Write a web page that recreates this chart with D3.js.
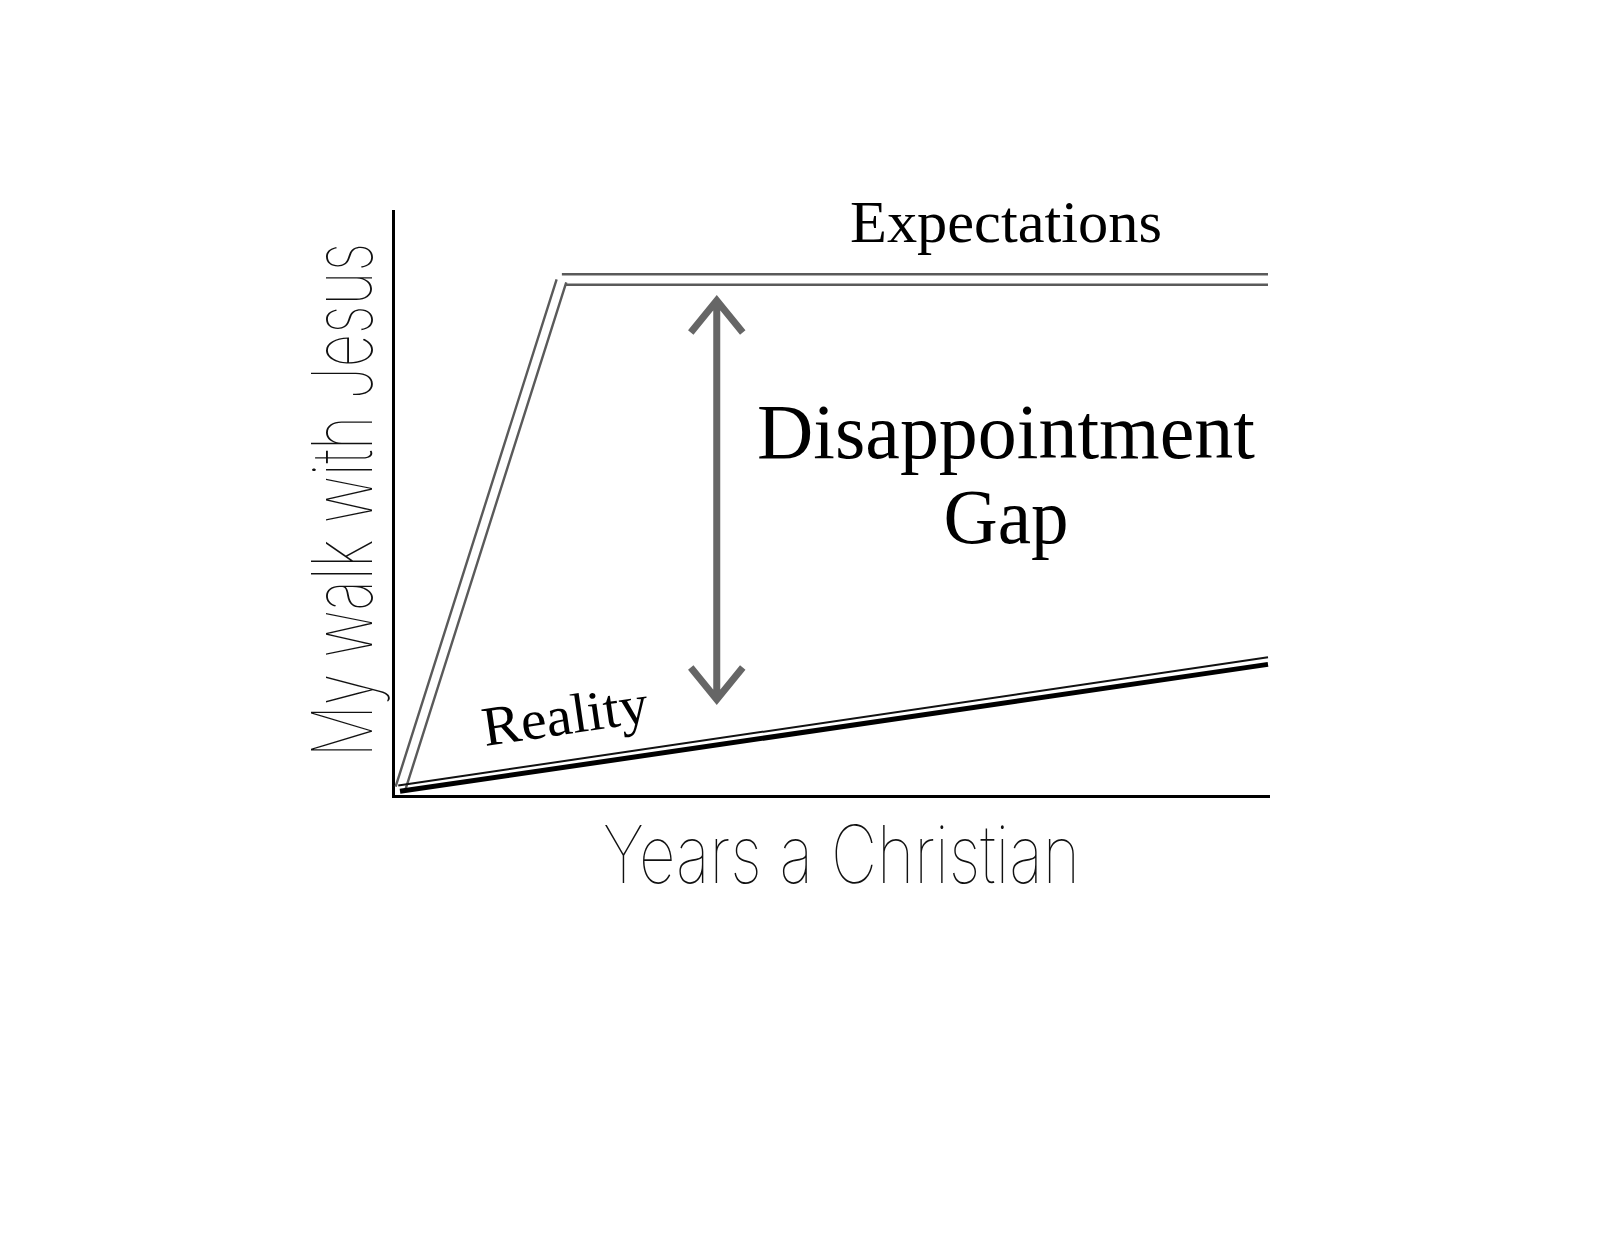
<!DOCTYPE html>
<html>
<head>
<meta charset="utf-8">
<script src="https://cdn.jsdelivr.net/npm/d3@7"></script>
<style>
  html, body { margin: 0; padding: 0; background: #fff; }
  svg { display: block; }
</style>
</head>
<body>
<svg id="chart" width="1600" height="1237"></svg>
<script>
// ---- data (years a Christian on x, walk with Jesus on y; arbitrary 0-10 units) ----
const xDomain = [0, 10];
const yDomain = [0, 10];

// Expectations: double line, diagonal rise then plateau (segments separated by null)
const expectationsOuter = [[0.03, 0.16], [1.87, 8.83], null, [1.93, 8.92], [10, 8.92]];
const expectationsInner = [[0.14, 0.10], [1.98, 8.78], null, [1.97, 8.74], [10, 8.74]];

// Reality: thin line over a thick line, slow steady rise
const realityThin  = [[0.06, 0.18], [10, 2.37]];
const realityThick = [[0.08, 0.08], [10, 2.25]];

// Disappointment-gap arrow
const arrowX = [3.70];
const arrowY = [1.65, 8.47];

// Labels
const labelExpectations = ["Expectations"];
const labelGap = ["Disappointment", "Gap"];
const labelReality = ["Reality"];
const labelX = ["Years a Christian"];
const labelY = ["My walk with Jesus"];

// ---- layout ----
const svg = d3.select("#chart");
const x = d3.scaleLinear().domain(xDomain).range([393, 1268]);
const y = d3.scaleLinear().domain(yDomain).range([796, 211]);

const line = d3.line()
  .defined(d => d !== null)
  .x(d => x(d[0]))
  .y(d => y(d[1]));

// axes (no ticks)
const gx = svg.append("g").attr("transform", `translate(0,${y(0)})`)
  .call(d3.axisBottom(x).ticks(0).tickSizeOuter(0));
const gy = svg.append("g").attr("transform", `translate(${x(0)},0)`)
  .call(d3.axisLeft(y).ticks(0).tickSizeOuter(0));
[gx, gy].forEach(g => g.select(".domain")
  .attr("stroke", "#000").attr("stroke-width", 3).attr("stroke-linecap", "square"));

// expectations lines
[expectationsOuter, expectationsInner].forEach(d => {
  svg.append("path").datum(d)
    .attr("d", line).attr("fill", "none")
    .attr("stroke", "#5a5a5a").attr("stroke-width", 2.4);
});

// reality lines
svg.append("path").datum(realityThin)
  .attr("d", line).attr("fill", "none")
  .attr("stroke", "#111").attr("stroke-width", 2);
svg.append("path").datum(realityThick)
  .attr("d", line).attr("fill", "none")
  .attr("stroke", "#000").attr("stroke-width", 5);

// double-headed arrow
const ax = x(arrowX[0]), ayTop = y(arrowY[1]), ayBot = y(arrowY[0]);
const hw = 26, hh = 32;
const arrowPath = d3.path();
arrowPath.moveTo(ax, ayTop); arrowPath.lineTo(ax, ayBot);
arrowPath.moveTo(ax - hw, ayTop + hh); arrowPath.lineTo(ax, ayTop); arrowPath.lineTo(ax + hw, ayTop + hh);
arrowPath.moveTo(ax - hw, ayBot - hh); arrowPath.lineTo(ax, ayBot); arrowPath.lineTo(ax + hw, ayBot - hh);
svg.append("path").attr("d", arrowPath.toString())
  .attr("fill", "none").attr("stroke", "#666").attr("stroke-width", 7)
  .attr("stroke-linejoin", "miter").attr("stroke-linecap", "butt");

// texts
const serif = "'Liberation Serif', 'DejaVu Serif', serif";
svg.append("text").text(labelExpectations[0])
  .attr("x", 850).attr("y", 242)
  .attr("font-family", serif).attr("font-size", 60)
  .attr("textLength", 312).attr("lengthAdjust", "spacingAndGlyphs")
  .attr("fill", "#000");

svg.selectAll("text.gap").data(labelGap).enter().append("text")
  .attr("class", "gap")
  .text(d => d)
  .attr("x", 1006).attr("y", (d, i) => i === 0 ? 458 : 543)
  .attr("text-anchor", "middle")
  .attr("font-family", serif).attr("font-size", 78)
  .attr("textLength", (d, i) => i === 0 ? 498 : 125)
  .attr("lengthAdjust", "spacingAndGlyphs")
  .attr("fill", "#000");

const angle = Math.atan2(y(realityThick[1][1]) - y(realityThick[0][1]),
                         x(realityThick[1][0]) - x(realityThick[0][0])) * 180 / Math.PI;
svg.append("text").text(labelReality[0])
  .attr("transform", `translate(485,746) rotate(${angle})`)
  .attr("font-family", serif).attr("font-size", 56)
  .attr("textLength", 167).attr("lengthAdjust", "spacingAndGlyphs")
  .attr("fill", "#000");

const thin = "Inter, Lato, 'Noto Sans', sans-serif";
svg.append("text").text(labelX[0])
  .attr("x", 603).attr("y", 883)
  .attr("font-family", thin).attr("font-weight", 100).attr("font-size", 80)
  .attr("textLength", 477).attr("lengthAdjust", "spacingAndGlyphs")
  .attr("fill", "#111");

svg.append("text").text(labelY[0])
  .attr("transform", "translate(372,757) rotate(-90)")
  .attr("font-family", thin).attr("font-weight", 100).attr("font-size", 84)
  .attr("textLength", 514).attr("lengthAdjust", "spacingAndGlyphs")
  .attr("fill", "#111");
</script>
</body>
</html>
